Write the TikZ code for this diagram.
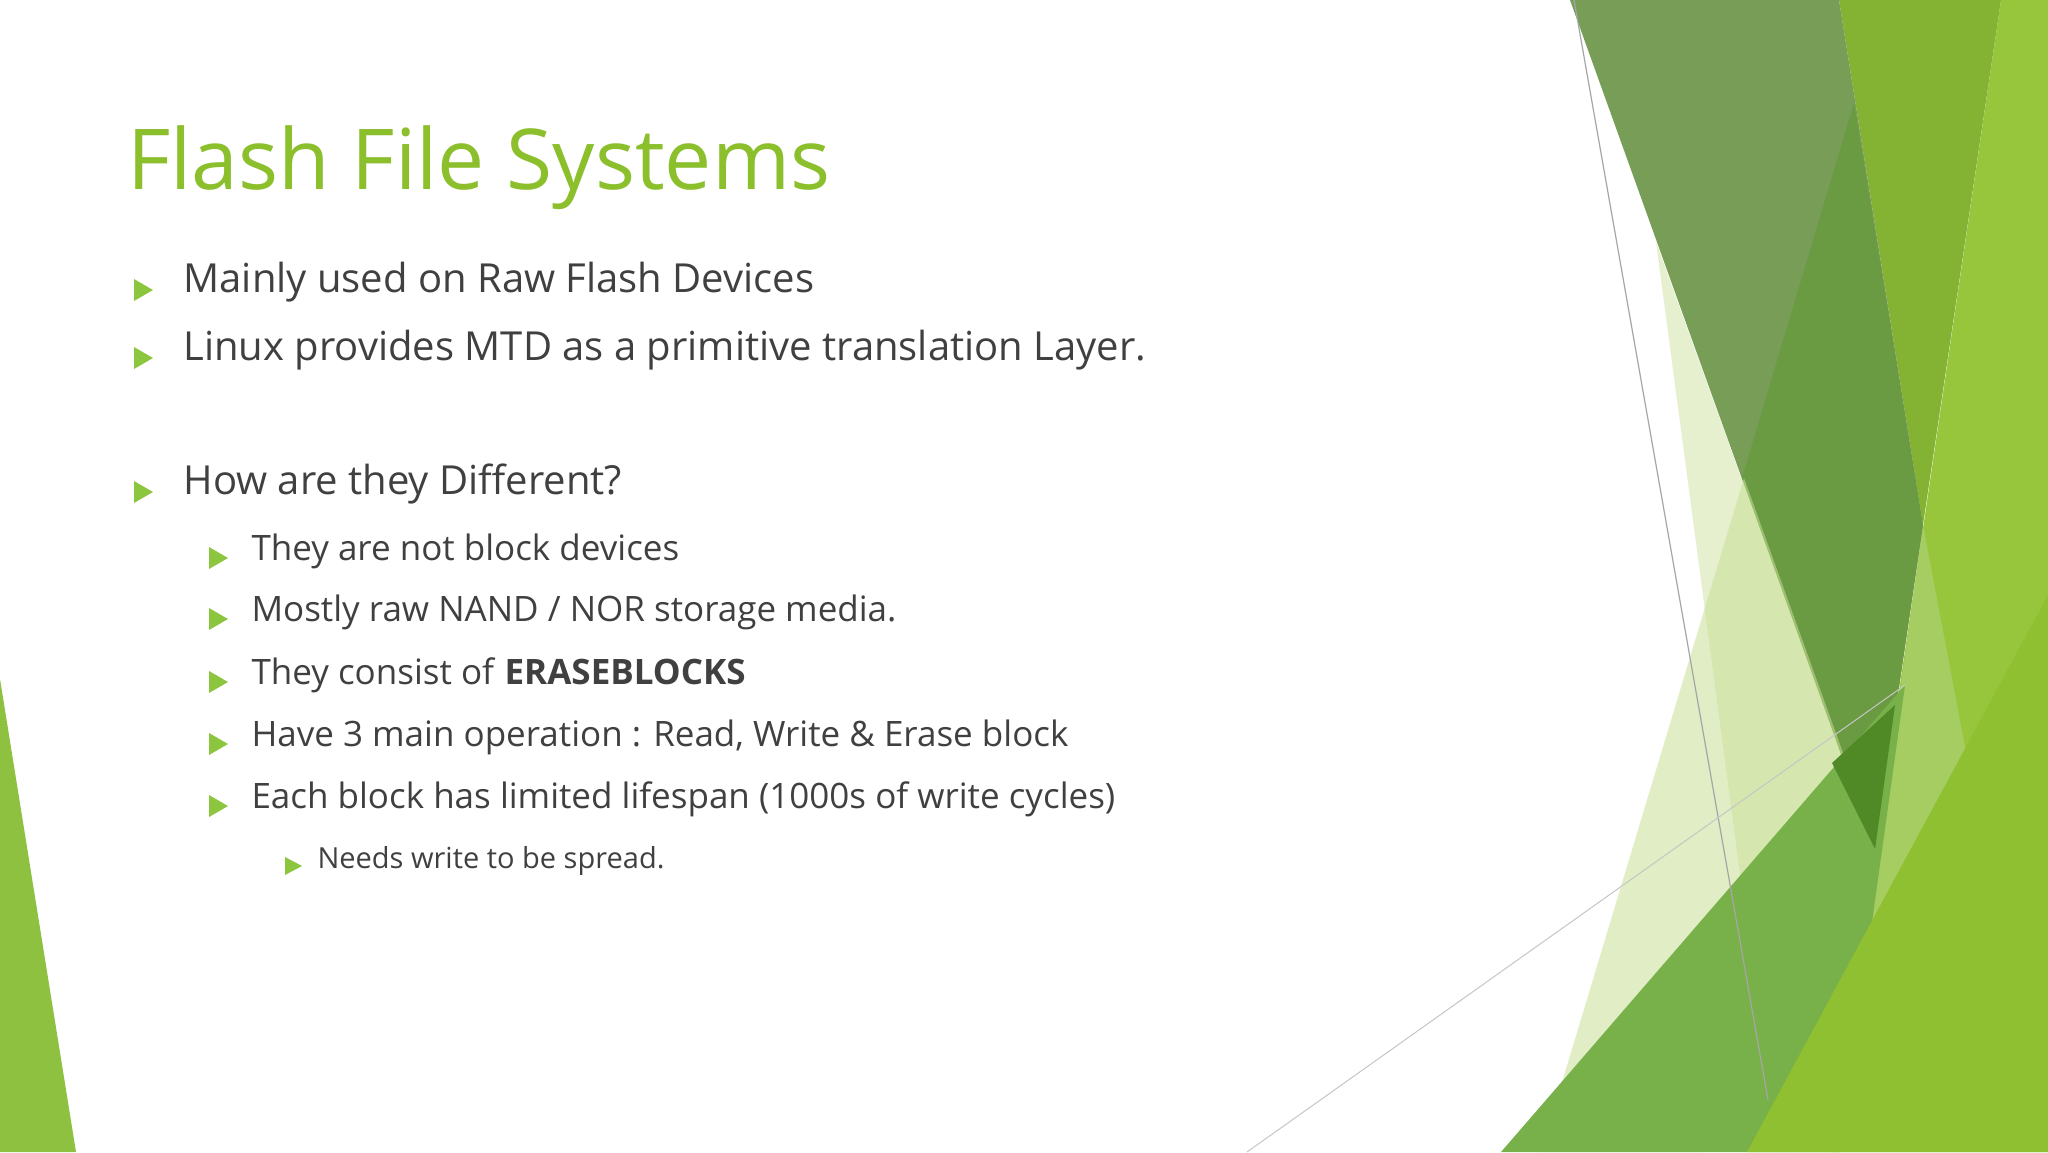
\documentclass[tikz,border=0pt]{standalone}
\usepackage{fontspec}
\setmainfont{Open Sans}
\definecolor{olive}{HTML}{779D56}
\definecolor{darkband}{HTML}{6A9B42}
\definecolor{brightg}{HTML}{84B334}
\definecolor{stripg}{HTML}{97C63C}
\definecolor{paleg}{HTML}{C8DF96}
\definecolor{midg}{HTML}{78B04A}
\definecolor{deepg}{HTML}{4F8A26}
\definecolor{botg}{HTML}{8FC031}
\definecolor{leftg}{HTML}{8DC13F}
\definecolor{lightband}{HTML}{A6CD62}
\definecolor{titleg}{HTML}{8BBF2C}
\definecolor{txt}{HTML}{404040}
\definecolor{bul}{HTML}{8CC63F}
\tikzset{
  lvla/.style={anchor=mid west,text=txt,font=\fontsize{40}{44}\selectfont},
  lvlb/.style={anchor=mid west,text=txt,font=\fontsize{35}{40}\selectfont},
  lvlc/.style={anchor=mid west,text=txt,font=\fontsize{29}{34}\selectfont},
}
\newcommand{\bulA}[2]{\fill[bul] (#1,#2-11) -- (#1+19,#2) -- (#1,#2+11) -- cycle;}
\begin{document}
\begin{tikzpicture}[x=1pt,y=-1pt]
\useasboundingbox (0,0) rectangle (2048,1152);
\fill[white] (0,0) rectangle (2048,1152);
% decorations
\fill[stripg] (2001,0) -- (2048,0) -- (2048,1152) -- (1831,1152) -- cycle;
\fill[lightband] (1923,525) -- (1975,800) -- (1868,925) -- cycle;
\fill[brightg] (1839,0) -- (2001,0) -- (1923,525) -- cycle;
\fill[olive] (1570,0) -- (1839,0) -- (1923,525) -- (1875,849) -- cycle;
\fill[darkband] (1854,103) -- (1923,525) -- (1875,849) -- (1742,478) -- cycle;
\fill[paleg,fill opacity=0.55] (1744,478) -- (1860,800) -- (1700,1152) -- (1541,1152) -- cycle;
\fill[paleg,fill opacity=0.45] (1656,242) -- (1875,849) -- (1790,1152) -- (1777,1152) -- cycle;
\fill[midg] (1501,1152) -- (1905,685) -- (1840,1152) -- cycle;
\fill[deepg] (1832,763) -- (1895,705) -- (1875,849) -- cycle;
\fill[botg] (1747,1152) -- (2048,595) -- (2048,1152) -- cycle;
\fill[leftg] (0,679) -- (76,1152) -- (0,1152) -- cycle;
\coordinate (l1a) at (1574,0); \coordinate (l1b) at (1768,1100);
\coordinate (l2a) at (1247,1152); \coordinate (l2b) at (1905,685);
\draw[gray!70,line width=1.2pt] (l1a) -- (l1b);
\draw[gray!45,line width=1pt] (l2a) -- (l2b);
% text
\node[anchor=base west,text=titleg,font=\fontsize{84}{90}\selectfont,inner sep=0] (title) at (127,189) {Flash File Systems};
\bulA{134}{290}\node[lvla] (b1) at (180,290) {Mainly used on Raw Flash Devices};
\bulA{134}{358}\node[lvla] (b2) at (180,358) {Linux provides MTD as a primitive translation Layer.};
\bulA{134}{492}\node[lvla] (b3) at (180,492) {How are they Different?};
\bulA{209}{558}\node[lvlb] (s1) at (248,558) {They are not block devices};
\bulA{209}{619}\node[lvlb] (s2) at (248,619) {Mostly raw NAND / NOR storage media.};
\bulA{209}{682}\node[lvlb] (s3) at (248,682) {They consist of \textbf{ERASEBLOCKS}};
\bulA{209}{744}\node[lvlb] (s4) at (248,744) {Have 3 main operation : Read, Write \& Erase block};
\bulA{209}{806}\node[lvlb] (s5) at (248,806) {Each block has limited lifespan (1000s of write cycles)};
\fill[bul] (285,857) -- (302,866) -- (285,875) -- cycle;
\node[lvlc] (t1) at (314,866) {Needs write to be spread.};
\end{tikzpicture}
\end{document}
